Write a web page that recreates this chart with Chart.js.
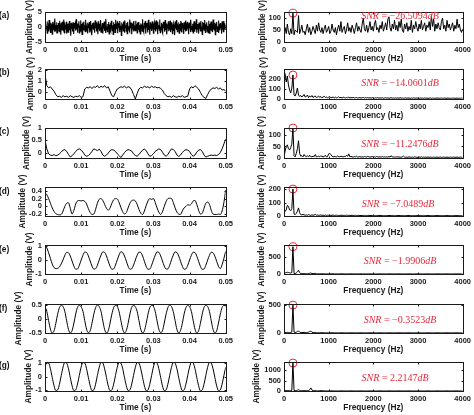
<!DOCTYPE html>
<html><head><meta charset="utf-8">
<script src="https://cdn.jsdelivr.net/npm/chart.js@4.4.1/dist/chart.umd.min.js"></script>
<style>
html,body{margin:0;padding:0;background:#fff;}
body{width:474px;height:415px;position:relative;overflow:hidden;}
canvas{position:absolute;}
.lbl{position:absolute;font:bold 8.3px "Liberation Sans",Arial,sans-serif;color:#111;line-height:1;white-space:nowrap;}
.snr{position:absolute;font:10px "Liberation Serif","Times New Roman",serif;color:#e8283a;white-space:nowrap;transform:translate(-50%,-50%);line-height:1;}
</style></head><body>
<script>
// ---------------- DATA ----------------
const panelLetters = ['(a)','(b)','(c)','(d)','(e)','(f)','(g)'];
const timeTicks = [0,0.01,0.02,0.03,0.04,0.05];
const freqTicks = [0,1000,2000,3000,4000];
const timeYTicks = [[-5,0,5],[0,1,2],[0,0.5,1],[-0.2,0,0.2,0.4],[-1,0,1],[-0.5,0,0.5],[-1,0,1]];
const timeYRange = [[-5,5],[-0.6,2.1],[-0.22,1.0],[-0.25,0.5],[-1,1.05],[-0.5,0.55],[-1.1,1.1]];
const freqYTicks = [[0,50,100],[0,100,200],[0,50,100],[0,100,200],[0,500],[0,500],[0,500,1000]];
const freqYRange = [[0,125],[0,300],[0,130],[0,215],[0,850],[0,520],[0,1400]];
const snrValues = ['\u221226.5094','\u221214.0601','\u221211.2476','\u22127.0489','\u22121.9906','\u22120.3523','2.2147'];
const peakFreq = 200;
const peakAmps = [120,240,130,200,800,500,1350];

const sigA = [
0.8,-1.2,1.9,-0.4,0.3,-2.1,1.1,0.6,-1.5,2.3,-0.7,0.2,-1.8,1.4,-0.3,0.9,-2.4,1.7,-0.9,0.5,
1.2,-1.6,2.8,-0.6,-1.1,0.4,1.6,-2.0,0.7,-0.2,1.3,-1.4,2.1,-0.8,0.1,-2.6,1.5,0.3,-1.0,1.8,
-0.5,-1.3,2.5,-1.9,0.6,0.0,-0.9,1.7,-2.2,1.0,0.4,-1.7,1.2,-0.3,2.0,-1.1,0.8,-2.9,1.4,-0.6,
0.9,-1.5,1.6,0.2,-2.3,1.3,-0.4,0.7,-1.2,2.6,-0.8,0.3,-1.9,1.1,-0.1,1.9,-2.0,0.5,-1.4,2.2,
-0.7,1.0,-2.5,1.5,0.1,-1.0,1.8,-0.9,0.6,-1.6,2.4,-1.3,0.2,-0.5,1.4,-2.1,0.9,-0.3,1.7,-1.8,
0.4,2.0,-1.2,0.7,-2.7,1.2,-0.6,1.5,-1.1,0.3,-1.9,2.2,-0.4,0.8,-1.5,1.6,-0.2,-2.4,1.9,-0.7,
1.1,-1.4,0.5,2.3,-1.7,0.0,-1.0,1.3,-2.2,0.9,-0.5,1.8,-1.3,0.6,-2.0,2.7,-0.8,0.2,-1.6,1.0,
-0.3,1.7,-2.3,0.8,-0.9,1.4,-1.5,2.1,0.1,-1.2,0.6,-2.5,1.6,-0.4,1.0,-1.8,2.4,-1.1,0.3,-0.6,
1.9,-2.1,0.7,-0.2,1.2,-1.7,2.0,-0.9,0.4,-2.8,1.5,-0.5,0.9,-1.3,1.8,-0.7,-1.9,2.2,-0.1,0.6,
-1.4,1.3,-2.2,1.7,-0.6,0.2,-1.1,2.5,-1.6,0.8,-0.3,1.5,-2.4,1.1,-0.8,0.4,-1.5,2.0,-1.0,0.5,
-1.2,2.1,-0.4,0.9,-2.0,1.5,-0.8,0.3,1.7,-1.6,0.6,-2.3,1.2,-0.2,0.8,-1.4,2.6,-0.9,0.4,-1.7,
1.4,-0.5,2.0,-2.2,0.7,-0.1,1.3,-1.8,0.5,2.4,-1.0,0.2,-2.6,1.6,-0.6,1.1,-1.3,0.8,-0.3,1.9,
-2.1,0.6,1.5,-0.9,0.3,-1.5,2.2,-0.7,1.0,-2.4,1.8,-0.4,0.6,-1.1,2.5,-1.9,0.2,-0.8,1.4,-1.2,
0.9,-2.0,1.7,-0.3,0.5,-1.6,2.3,-1.0,0.1,1.2,-2.5,0.8,-0.6,1.9,-1.4,0.4,-0.2,2.1,-1.7,0.7,
-0.9,1.6,-2.2,0.3,1.1,-1.3,0.6,-2.7,1.8,-0.5,0.9,-1.0,2.3,-1.6,0.2,-0.4,1.5,-2.1,1.0,-0.7,
2.0,-1.1,0.4,-1.8,1.3,-0.2,0.8,-2.3,1.6,-0.9,0.5,2.2,-1.5,0.1,-1.2,1.7,-0.6,0.9,-2.4,1.4,
-0.4,0.7,-1.7,2.4,-0.8,0.3,-1.4,1.1,-2.0,0.6,1.9,-0.3,-1.6,1.2,-0.7,2.6,-1.9,0.5,-0.1,1.0,
-2.2,1.5,-0.5,0.8,-1.3,2.0,-0.9,0.2,-2.5,1.7,-0.6,1.3,-1.1,0.4,2.3,-1.8,0.9,-0.4,1.6,-1.4,
0.3,-1.9,2.1,-0.7,1.0,-2.3,0.5,-0.2,1.8,-1.2,0.6,-1.7,2.5,-0.8,0.1,-1.0,1.4,-2.6,1.1,-0.3,
1.7,-1.5,0.2,-0.6,2.2,-2.0,0.9,-1.1,1.3,-0.4,0.7,-2.2,1.9,-0.9,0.4,-1.6,2.0,-0.5,1.2,-0.8,
0.7];
const sigB = [
1.6,0.6,0.4,0.5,0.3,0.1,-0.2,-0.4,-0.35,-0.45,
-0.3,-0.4,-0.35,-0.45,-0.3,-0.4,-0.45,-0.35,-0.4,-0.3,
-0.45,-0.4,0.3,0.45,0.4,0.5,0.35,0.5,0.45,0.6,
0.4,0.55,0.45,0.6,0.4,0.5,0.1,-0.3,-0.4,0.0,
0.3,0.4,0.5,0.45,0.55,0.4,0.5,0.45,0.2,-0.2,
-0.6,-0.1,0.3,0.45,0.4,0.55,0.45,0.5,0.4,0.55,
0.45,0.5,0.4,0.45,0.35,0.2,-0.1,-0.3,-0.4,-0.35,
-0.45,-0.3,-0.4,-0.45,-0.35,-0.4,-0.3,-0.45,-0.4,-0.35,
0.3,0.5,0.4,0.6,0.45,0.3,0.0,-0.3,-0.45,-0.55,
-0.2,0.1,0.3,0.4,0.35,0.45,0.3,0.4,0.2,0.25,
0.1];
const sigC = [
0.5,0.15,-0.05,-0.1,-0.12,-0.08,-0.13,-0.1,-0.05,0.02,
0.1,0.12,0.05,-0.08,-0.18,-0.12,-0.05,0.05,0.12,0.15,
0.1,0.02,-0.1,-0.15,-0.12,-0.05,0.05,0.15,0.12,0.08,
0.14,0.05,-0.1,-0.15,-0.1,-0.02,0.08,0.12,0.1,0.05,
-0.05,-0.12,-0.2,-0.1,0.0,0.08,0.12,0.1,0.06,-0.05,
-0.12,-0.15,-0.08,0.02,0.1,0.14,0.08,-0.05,-0.15,-0.12,
-0.05,0.05,0.1,0.15,0.12,0.02,-0.1,-0.15,-0.08,0.05,
0.15,0.12,0.05,-0.1,-0.16,-0.1,0.0,0.08,0.12,0.1,
0.05,-0.08,-0.15,-0.1,0.02,0.1,0.12,0.05,-0.1,-0.18,
-0.15,-0.12,-0.1,-0.12,-0.1,-0.12,-0.08,0.0,0.15,0.35,
0.55];
const sigD = [
0.35,0.3,0.2,0.08,-0.04,-0.13,-0.19,-0.21,-0.22,-0.21,
-0.12,0.0,0.08,0.09,-0.05,-0.2,-0.1,0.06,0.14,0.15,
0.14,0.15,0.13,0.06,-0.06,-0.16,-0.21,-0.2,-0.08,0.08,
0.18,0.2,0.15,0.05,-0.05,-0.1,-0.04,0.08,0.17,0.2,
0.19,0.1,-0.03,-0.14,-0.2,-0.16,-0.04,0.08,0.15,0.16,
0.14,0.05,-0.08,-0.18,-0.21,-0.12,0.02,0.14,0.2,0.18,
0.2,0.1,-0.04,-0.15,-0.21,-0.14,0.0,0.12,0.2,0.21,
0.2,0.1,-0.04,-0.15,-0.2,-0.21,-0.12,-0.04,0.0,0.04,
0.03,0.06,0.14,0.15,0.05,-0.1,-0.2,-0.18,-0.05,0.08,
0.11,0.05,-0.1,-0.2,-0.21,-0.21,-0.2,-0.21,-0.12,0.1,
0.42];
const sigE = [
1.0,0.85,0.5,0.1,-0.3,-0.55,-0.62,-0.6,-0.5,-0.28,
0.0,0.33,0.53,0.5,0.27,-0.09,-0.45,-0.66,-0.64,-0.38,
-0.02,0.33,0.55,0.52,0.28,-0.08,-0.44,-0.65,-0.63,-0.38,
-0.01,0.34,0.56,0.53,0.28,-0.09,-0.45,-0.66,-0.64,-0.37,
0.0,0.35,0.57,0.52,0.27,-0.09,-0.45,-0.66,-0.63,-0.37,
-0.01,0.33,0.55,0.52,0.27,-0.1,-0.46,-0.67,-0.65,-0.38,
-0.02,0.33,0.56,0.53,0.28,-0.08,-0.44,-0.65,-0.64,-0.38,
0.0,0.34,0.56,0.52,0.27,-0.09,-0.45,-0.66,-0.64,-0.38,
-0.01,0.32,0.54,0.51,0.26,-0.1,-0.46,-0.67,-0.65,-0.38,
-0.02,0.32,0.53,0.5,0.26,-0.1,-0.45,-0.62,-0.35,0.1,
0.6];
const sigF = [
0.46,0.28,-0.05,-0.36,-0.5,-0.42,-0.15,0.18,0.42,0.5,
0.46,0.27,-0.06,-0.37,-0.5,-0.41,-0.14,0.19,0.43,0.5,
0.45,0.28,-0.05,-0.36,-0.49,-0.42,-0.15,0.18,0.42,0.51,
0.46,0.28,-0.06,-0.37,-0.5,-0.42,-0.14,0.18,0.42,0.5,
0.46,0.27,-0.05,-0.36,-0.5,-0.41,-0.15,0.19,0.43,0.5,
0.45,0.28,-0.05,-0.37,-0.5,-0.42,-0.15,0.18,0.42,0.5,
0.46,0.28,-0.06,-0.36,-0.49,-0.42,-0.14,0.18,0.42,0.51,
0.46,0.27,-0.05,-0.37,-0.5,-0.41,-0.15,0.19,0.42,0.5,
0.45,0.28,-0.05,-0.36,-0.5,-0.42,-0.15,0.18,0.43,0.5,
0.46,0.28,-0.06,-0.37,-0.5,-0.42,-0.14,0.18,0.42,0.5,
0.47];
const sigG = [
0.7,1.07,1.02,0.59,-0.07,-0.7,-1.07,-1.02,-0.58,0.08,
0.72,1.08,1.01,0.58,-0.08,-0.71,-1.08,-1.01,-0.57,0.09,
0.71,1.07,1.02,0.59,-0.07,-0.7,-1.07,-1.02,-0.58,0.08,
0.7,1.08,1.02,0.58,-0.07,-0.71,-1.08,-1.02,-0.58,0.08,
0.71,1.07,1.01,0.59,-0.08,-0.7,-1.07,-1.01,-0.57,0.09,
0.7,1.07,1.02,0.58,-0.07,-0.7,-1.08,-1.02,-0.58,0.08,
0.72,1.08,1.02,0.59,-0.07,-0.71,-1.07,-1.02,-0.58,0.08,
0.7,1.07,1.01,0.58,-0.08,-0.7,-1.07,-1.01,-0.57,0.09,
0.71,1.08,1.02,0.59,-0.07,-0.7,-1.08,-1.02,-0.58,0.08,
0.7,1.07,1.02,0.58,-0.07,-0.71,-1.07,-1.02,-0.58,0.08,
0.7];

const specA = [
45,60,35,75,40,30,55,35,120,30,
50,45,40,110,35,50,70,40,45,30,
55,75,40,60,30,45,65,50,35,70,
45,80,50,40,60,35,55,70,40,50,
65,35,45,75,50,40,60,30,55,70,
45,85,40,55,65,35,50,80,45,60,
40,70,55,35,60,80,45,65,50,40,
75,100,55,45,70,40,60,85,50,65,
45,75,90,50,60,40,70,55,85,45,
60,80,50,95,105,60,45,75,55,90,
50,70,45,85,60,95,50,40,75,55,
80,45,65,50,90,40,70,55,85,60,
45,75,55,90,50,65,80,45,70,60,
85,50,110,65,95,45,75,55,80,60,
50,85,100,55,70,45,90,60,75,50,
65,80,45,70,55,95,60,75,50,40,
55];
const specB = [
280,250,170,230,140,90,60,110,240,40,
30,60,110,40,25,35,20,30,45,20,
25,40,15,30,20,35,15,25,30,15,
20,30,15,25,12,20,28,15,20,12,
18,25,12,15,20,10,18,12,15,22,
12,16,10,18,14,10,15,12,18,10,
14,12,16,10,13,15,10,12,14,10,
12,15,10,13,11,14,10,12,9,13,
11,9,12,10,13,9,11,10,12,8,
10,12,9,11,8,10,12,9,10,8,
11,9,10,8,12,9,10,8,9,11,
8,10,9,7,10,8,11,9,8,10,
9,7,10,8,9,7,10,8,9,7,
8,10,7,9,8,7,9,8,10,7,
8,9,7,8,10,7,8,9,7,8,
7,9,8,7,8,9,7,8,7,9,
8];
const specC = [
5,30,50,57,40,35,45,60,130,10,
5,20,40,75,20,8,10,5,15,8,
6,10,5,12,6,5,8,6,15,5,
6,8,5,10,7,5,6,12,5,6,
18,20,14,8,5,7,6,5,9,6,
5,8,6,5,7,6,12,7,18,5,
7,5,4,6,5,8,4,5,6,4,
5,4,6,5,4,7,5,4,5,6,
4,5,4,6,5,4,5,4,6,4,
5,4,5,4,6,4,10,4,5,4,
4,5,4,5,3,4,5,8,4,3,
4,3,5,4,3,4,3,5,4,3,
3,4,3,5,3,4,3,4,3,4,
3,4,3,3,4,3,3,4,3,3,
4,3,3,4,3,3,4,3,3,4,
3,3,4,3,3,4,3,3,4,3,
3];
const specD = [
20,35,45,80,70,45,40,55,200,15,
10,20,35,60,25,10,8,12,8,6,
8,6,10,7,5,8,6,7,12,6,
7,5,6,8,5,6,4,7,5,6,
5,6,4,5,7,4,5,6,4,5,
4,5,6,4,5,4,6,5,4,5,
4,5,3,4,5,3,4,5,3,4,
3,4,5,3,4,3,5,3,4,3,
4,3,3,4,3,5,3,4,3,3,
3,4,3,3,4,3,3,4,3,3,
3,3,4,3,3,3,4,3,3,3,
3,4,3,3,3,3,4,3,3,3,
3,3,3,4,3,3,3,3,3,4,
3,3,3,3,3,3,4,3,3,3,
3,3,3,3,3,3,3,3,3,3,
3,3,3,3,3,3,3,3,3,3,
3];
const specE = [
10,30,40,50,45,35,30,40,800,20,
10,30,60,110,40,15,10,8,10,8,
10,8,12,20,30,15,10,12,20,8,
6,8,5,6,5,4,6,5,4,5,
4,5,3,4,6,3,4,5,3,4,
3,4,5,3,4,3,5,4,3,4,
3,4,3,3,4,3,4,3,3,4,
3,3,4,3,3,4,3,3,4,3,
3,4,3,3,3,4,3,3,3,4,
3,3,3,4,3,3,3,3,4,3,
3,3,3,3,3,3,4,3,3,3,
3,3,3,3,3,3,3,3,3,3,
3,3,3,3,3,3,3,3,3,3,
3,3,3,3,3,3,3,3,3,3,
3,3,3,3,3,3,3,3,3,3,
3,3,3,3,3,3,3,3,3,3,
3];
const specF = [
5,8,10,12,10,8,10,15,500,15,
8,15,30,35,15,8,10,8,12,10,
8,10,15,25,35,15,8,6,10,6,
5,6,4,5,4,5,4,3,4,3,
3,4,3,3,4,3,3,4,3,3,
3,3,4,3,3,3,4,3,3,3,
3,3,3,3,3,3,3,3,3,3,
3,3,3,3,3,3,3,3,3,3,
3,3,3,3,3,3,3,3,3,3,
3,3,3,3,3,3,3,3,3,3,
3,3,3,3,3,3,3,3,3,3,
3,3,3,3,3,3,3,3,3,3,
3,3,3,3,3,3,3,3,3,3,
3,3,3,3,3,3,3,3,3,3,
3,3,3,3,3,3,3,3,3,3,
3,3,3,3,3,3,3,3,3,3,
3];
const specG = [
10,15,20,25,20,15,20,30,1350,30,
15,25,40,60,30,15,10,12,15,20,
15,20,25,60,150,50,15,10,20,10,
8,10,15,20,10,8,6,5,6,5,
5,4,5,6,4,5,4,5,4,5,
4,5,4,4,5,4,4,5,4,4,
4,4,5,4,4,4,5,4,4,4,
4,4,4,4,4,4,4,4,4,4,
4,4,4,4,4,4,4,4,4,4,
4,4,4,4,4,4,4,4,4,4,
4,4,4,4,4,4,4,4,4,4,
4,4,4,4,4,4,4,4,4,4,
4,4,4,4,4,4,4,4,4,4,
4,4,4,4,4,4,4,4,4,4,
4,4,4,4,4,4,4,4,4,4,
4,4,4,4,4,4,4,4,4,4,
4];

const timeSignals = [sigA,sigB,sigC,sigD,sigE,sigF,sigG];
const spectra = [specA,specB,specC,specD,specE,specF,specG];

// ---------------- LAYOUT ----------------
const rowBox = [[12,42],[69,99],[128,158],[187,216],[245,274],[304,333],[362,391]];
const leftTitleW = [20,19,23,27,20,31,21];
const rightTitleW = [26,25,27,27,27,27,32];
const letterY = [11,68,127,187,245,304,361];
const snrPos = [[400,16],[400,83],[400,144],[398,204],[400,261],[400,320],[395,378]];
const smooth = [false,false,false,true,true,true,true];

const FONT = '"Liberation Sans", Arial, sans-serif';
const tickFont = {family:FONT,size:7.5,weight:'bold'};
const titleFont = {family:FONT,size:8.3,weight:'bold'};
const INK = '#1a1a1a';
const RED = '#e8283a';

const boxPlugin = {
  id:'box',
  afterDatasetsDraw(chart){
    const {ctx, chartArea:a, scales} = chart;
    const L=Math.round(a.left)+0.5, R=Math.round(a.right)+0.5, T=Math.round(a.top)+0.5, B=Math.round(a.bottom)+0.5;
    ctx.save();
    ctx.strokeStyle=INK; ctx.lineWidth=1;
    ctx.strokeRect(L,T,R-L,B-T);
    ctx.beginPath();
    scales.x.ticks.forEach(t=>{const p=Math.round(scales.x.getPixelForValue(t.value))+0.5; ctx.moveTo(p,B);ctx.lineTo(p,B-2);ctx.moveTo(p,T);ctx.lineTo(p,T+2);});
    scales.y.ticks.forEach(t=>{const p=Math.round(scales.y.getPixelForValue(t.value))+0.5; ctx.moveTo(L,p);ctx.lineTo(L+2,p);ctx.moveTo(R,p);ctx.lineTo(R-2,p);});
    ctx.stroke();
    ctx.restore();
  }
};

function makeChart(opt){
  const cv=document.createElement('canvas');
  cv.width=opt.w; cv.height=opt.h;
  cv.style.left=opt.x+'px'; cv.style.top=opt.y+'px';
  cv.style.width=opt.w+'px'; cv.style.height=opt.h+'px';
  document.body.appendChild(cv);
  const n=opt.values.length;
  const pts=opt.values.map((v,i)=>({x:opt.xMax*i/(n-1), y:v}));
  const datasets=[{data:pts,borderColor:'#000',borderWidth:opt.lw||1,pointRadius:0,
      tension:opt.smooth?0.35:0, cubicInterpolationMode:opt.smooth?'monotone':'default'}];
  if(opt.peak){
    datasets.push({data:[opt.peak],showLine:false,pointRadius:4,pointBorderColor:RED,borderColor:RED,
      pointBackgroundColor:'rgba(0,0,0,0)',backgroundColor:'rgba(0,0,0,0)',pointBorderWidth:1,clip:false});
  }
  new Chart(cv,{
    type:'line',
    data:{datasets},
    options:{
      responsive:false, animation:false, devicePixelRatio:1, events:[],
      layout:{padding:{left:opt.padL,right:8,top:14,bottom:0}},
      plugins:{legend:{display:false},tooltip:{enabled:false}},
      scales:{
        x:{type:'linear',min:0,max:opt.xMax,grid:{display:false,drawTicks:false},border:{display:false},
          afterBuildTicks:s=>{s.ticks=opt.xTicks.map(v=>({value:v}));},
          afterFit:s=>{s.height=22;},
          ticks:{autoSkip:false,maxRotation:0,minRotation:0,padding:3,color:INK,font:tickFont,callback:v=>String(v)},
          title:{display:true,text:opt.xTitle,color:INK,font:titleFont,padding:{top:0,bottom:0}}},
        y:{type:'linear',min:opt.yMin,max:opt.yMax,grid:{display:false,drawTicks:false},border:{display:false},
          afterBuildTicks:s=>{s.ticks=opt.yTicks.map(v=>({value:v}));},
          afterFit:s=>{s.width=opt.yW;},
          ticks:{autoSkip:false,padding:3,color:INK,font:tickFont,callback:v=>String(v)},
          title:{display:true,text:'Amplitude (V)',color:INK,font:titleFont,padding:{top:0,bottom:0}}}
      }
    },
    plugins:[boxPlugin]
  });
}

for(let r=0;r<7;r++){
  const [T,B]=rowBox[r];
  const h=(B-T)+14+22;
  makeChart({x:0,y:T-14,w:236,h,padL:45-leftTitleW[r],yW:leftTitleW[r],
    values:timeSignals[r],xMax:0.05,xTicks:timeTicks,xTitle:'Time (s)',
    yMin:timeYRange[r][0],yMax:timeYRange[r][1],yTicks:timeYTicks[r],smooth:smooth[r],
    lw:r===0?1.1:1});
  makeChart({x:237,y:T-14,w:237,h,padL:47-rightTitleW[r],yW:rightTitleW[r],
    values:spectra[r],xMax:4000,xTicks:freqTicks,xTitle:'Frequency (Hz)',
    yMin:freqYRange[r][0],yMax:freqYRange[r][1],yTicks:freqYTicks[r],smooth:false,
    peak:{x:peakFreq,y:peakAmps[r]}});
  const lab=document.createElement('div');
  lab.className='lbl'; lab.textContent=panelLetters[r];
  lab.style.left='-1px'; lab.style.top=letterY[r]+'px';
  document.body.appendChild(lab);
  const s=document.createElement('div');
  s.className='snr';
  s.innerHTML='<i>SNR</i> = '+snrValues[r]+'<i>dB</i>';
  s.style.left=snrPos[r][0]+'px'; s.style.top=snrPos[r][1]+'px';
  document.body.appendChild(s);
}
</script>
</body></html>
